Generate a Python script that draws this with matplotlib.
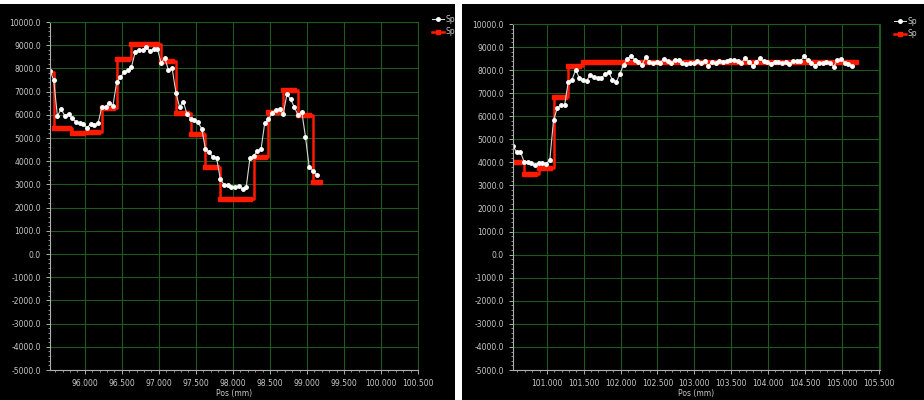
import numpy as np
import matplotlib
matplotlib.use('Agg')
import matplotlib.pyplot as plt
from matplotlib.patches import Rectangle
from matplotlib.ticker import MultipleLocator, FormatStrFormatter

# left panel: measured (white) and set (red), sampled every 0.05 mm
left_x0 = 95.53
left_white = [7900, 7490, 5950, 6250, 5950, 6050, 5850, 5700, 5650, 5600, 5450, 5600, 5550, 5640,
              6340, 6340, 6530, 6390, 7400, 7610, 7840, 7930, 8060, 8700, 8790, 8790, 8940, 8730,
              8840, 8840, 8240, 8440, 7930, 8000, 6960, 6340, 6570, 6030, 5840, 5760, 5670, 5390,
              4510, 4400, 4160, 4130, 3240, 2990, 2990, 2890, 2880, 2930, 2790, 2880, 4130, 4240,
              4430, 4510, 5650, 5800, 6090, 6200, 6250, 6030, 6890, 6670, 6330, 5990, 6140, 5060,
              3760, 3590, 3420]
left_red_vals = [7860, 5430, 5210, 5240, 6300, 8400, 9040, 8300, 6070, 5190, 3730, 2370, 4190,
                 6110, 7060, 6010, 3100]
left_red_runs = [1, 5, 4, 4, 4, 4, 8, 4, 4, 4, 4, 9, 4, 4, 4, 4, 3]

# right panel
right_x0 = 100.54
right_white = [4700, 4440, 4470, 4030, 4000, 3960, 3890, 3970, 3970, 3940, 4110, 5840, 6340, 6470,
               6470, 7500, 7580, 8010, 7670, 7580, 7550, 7800, 7700, 7650, 7640, 7840, 7900, 7580,
               7470, 7840, 8220, 8470, 8620, 8450, 8370, 8230, 8560, 8360, 8300, 8370, 8320, 8500,
               8400, 8290, 8430, 8450, 8310, 8270, 8300, 8320, 8380, 8330, 8410, 8200, 8350, 8320,
               8410, 8370, 8400, 8460, 8420, 8410, 8310, 8520, 8370, 8180, 8350, 8520, 8390, 8370,
               8280, 8360, 8360, 8300, 8350, 8260, 8380, 8380, 8390, 8600, 8450, 8310, 8200, 8310,
               8310, 8360, 8330, 8150, 8420, 8480, 8330, 8250, 8180]
right_red_vals = [4000, 3480, 3770, 6840, 8200, 8360]
right_red_runs = [3, 4, 4, 4, 4, 75]

step = 0.05
grid_col = '#1e5a1e'
txt_col = '#c8c8c8'

fig = plt.figure(figsize=(9.24, 4.0), dpi=100, facecolor='white')
fig.patches.append(Rectangle((0, 0), 455 / 924, 396 / 400, transform=fig.transFigure,
                             facecolor='black', edgecolor='none', zorder=-10))
fig.patches.append(Rectangle((462 / 924, 0), 462 / 924, 396 / 400, transform=fig.transFigure,
                             facecolor='black', edgecolor='none', zorder=-10))


def draw_panel(rect, x0, white, red_vals, red_runs, xlim, xticks):
    ax = fig.add_axes(rect)
    ax.set_facecolor('black')
    xw = x0 + step * np.arange(len(white))
    red = np.repeat(red_vals, red_runs)
    xr = x0 + step * np.arange(len(red))
    ax.plot(xr, red, color='#ff1a00', lw=1.8, drawstyle='steps-post',
            marker='s', ms=2.5, mec='#ff1a00', label='Sp')
    ax.plot(xw, white, color='#d8d8d8', lw=0.8, marker='o', ms=2.5,
            mfc='white', mec='white', label='Sp')
    ax.set_xlim(*xlim)
    ax.set_ylim(-5000, 10000)
    ax.set_xticks(xticks)
    ax.xaxis.set_minor_locator(MultipleLocator(0.1))
    ax.yaxis.set_major_locator(MultipleLocator(1000))
    ax.yaxis.set_minor_locator(MultipleLocator(200))
    ax.xaxis.set_major_formatter(FormatStrFormatter('%.3f'))
    ax.yaxis.set_major_formatter(FormatStrFormatter('%.1f'))
    ax.grid(True, which='major', color=grid_col, lw=0.8)
    ax.tick_params(colors=txt_col, labelsize=5.5, length=3, width=0.6)
    ax.tick_params(which='minor', colors=txt_col, length=1.5, width=0.5)
    for s in ['top', 'right']:
        ax.spines[s].set_color(grid_col)
    for s in ['left', 'bottom']:
        ax.spines[s].set_color('#b0b0b0')
    ax.set_xlabel('Pos (mm)', color=txt_col, fontsize=5.5, labelpad=1)
    h, l = ax.get_legend_handles_labels()
    ax.legend(h[::-1], l[::-1], loc='upper left', bbox_to_anchor=(1.03, 1.03),
              frameon=False, fontsize=5.5, labelcolor=txt_col, handlelength=1.5,
              handletextpad=0.3, borderaxespad=0)
    return ax


draw_panel([50 / 924, 30 / 400, 368 / 924, 348 / 400], left_x0, left_white,
           left_red_vals, left_red_runs, (95.53, 100.5), np.arange(96.0, 100.51, 0.5))
draw_panel([513 / 924, 30 / 400, 367 / 924, 346 / 400], right_x0, right_white,
           right_red_vals, right_red_runs, (100.54, 105.52), np.arange(101.0, 105.51, 0.5))

fig.savefig('out.png', dpi=100, facecolor=fig.get_facecolor())
